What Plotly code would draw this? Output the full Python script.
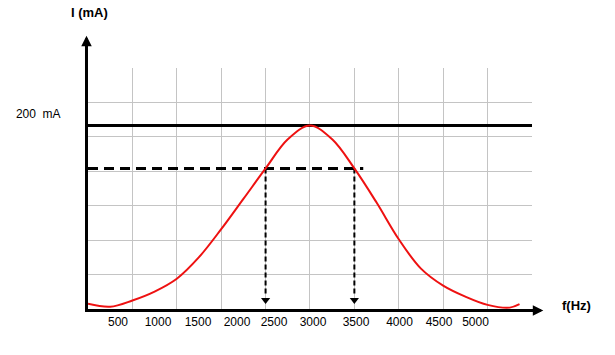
import plotly.graph_objects as go

# Resonance curve (frequency in Hz, current in mA)
freq_hz = [500, 750, 1000, 1250, 1500, 1750, 2000, 2250, 2500, 2750, 3000,
           3250, 3500, 3750, 4000, 4250, 4500, 4750, 5000, 5250, 5360]
current_ma = [5.7, 2.5, 9.3, 19.0, 33.0, 56.5, 87.0, 120.0, 153.2, 185.0, 200,
              185.0, 153.2, 116.0, 76.0, 44.0, 25.5, 13.5, 4.5, 1.5, 5.2]

peak_ma = 200
half_power_ma = 153.2
f_low, f_high = 2500, 3500
f_dash_end = 3600
arrow_tip_ma = 9.8

# Tick labels (placed where the picture prints them)
x_tick_text = ["500", "1000", "1500", "2000", "2500", "3000", "3500", "4000", "4500", "5000"]
x_tick_pos = [838, 1288, 1739, 2178, 2595, 3034, 3518, 4008, 4453, 4864]
y_tick_text = ["200\u00a0\u00a0mA"]
y_tick_pos = [212.7]

x_range = [500, 5500.5]
y_range = [0, 262.7]
x_grid_step = 500
y_grid_step = 37.5

fig = go.Figure()

# 200 mA reference line
fig.add_trace(go.Scatter(x=x_range, y=[peak_ma, peak_ma], mode="lines",
                         line=dict(color="black", width=3), hoverinfo="skip"))
# half-power dashed line
fig.add_trace(go.Scatter(x=[x_range[0], f_dash_end], y=[half_power_ma, half_power_ma], mode="lines",
                         line=dict(color="black", width=3, dash="10px,6px"), hoverinfo="skip"))
# vertical dashed drops
for f in (f_low, f_high):
    fig.add_trace(go.Scatter(x=[f, f], y=[half_power_ma, arrow_tip_ma + 4], mode="lines",
                             line=dict(color="black", width=2, dash="5px,3px"), hoverinfo="skip"))
    fig.add_trace(go.Scatter(x=[f], y=[arrow_tip_ma], mode="markers",
                             marker=dict(symbol="triangle-down", size=8, color="black"),
                             hoverinfo="skip"))
# red resonance curve
fig.add_trace(go.Scatter(x=freq_hz, y=current_ma, mode="lines",
                         line=dict(color="#ee1111", width=2, shape="spline", smoothing=1.0),
                         hoverinfo="skip"))

grid_color = "#c4c4c4"
fig.update_xaxes(range=x_range, showgrid=False, zeroline=False,
                 showline=True, linecolor="black", linewidth=3,
                 tickmode="array", tickvals=x_tick_pos, ticktext=x_tick_text, ticks="",
                 tickfont=dict(family="Liberation Sans", size=12, color="black"),
                 minor=dict(tick0=0, dtick=x_grid_step, showgrid=True, gridcolor=grid_color,
                            gridwidth=1, ticks=""))
fig.update_yaxes(range=y_range, showgrid=False, zeroline=False,
                 showline=True, linecolor="black", linewidth=3,
                 tickmode="array", tickvals=y_tick_pos, ticktext=y_tick_text, ticks="",
                 ticklabelstandoff=22,
                 tickfont=dict(family="Liberation Sans", size=12, color="black"),
                 minor=dict(tick0=0, dtick=y_grid_step, showgrid=True, gridcolor=grid_color,
                            gridwidth=1, ticks=""))

annotations = [
    # axis arrows
    dict(x=-0.0034, y=1.134, xref="paper", yref="paper", text="", showarrow=True,
         ax=0, ay=45, arrowhead=2, arrowsize=0.7, arrowwidth=3, arrowcolor="black"),
    dict(x=1.0255, y=-0.0062, xref="paper", yref="paper", text="", showarrow=True,
         ax=-45, ay=0, arrowhead=2, arrowsize=0.7, arrowwidth=3, arrowcolor="black"),
    # axis titles
    dict(x=0.003, y=1.232, xref="paper", yref="paper", text="<b>I (mA)</b>", showarrow=False,
         xanchor="center", yanchor="middle",
         font=dict(family="Liberation Sans", size=13, color="black")),
    dict(x=1.101, y=0.016, xref="paper", yref="paper", text="<b>f(Hz)</b>", showarrow=False,
         xanchor="center", yanchor="middle",
         font=dict(family="Liberation Sans", size=13, color="black")),
]

fig.update_layout(width=615, height=355, autosize=False,
                  margin=dict(l=88, r=83, t=68, b=45.5),
                  paper_bgcolor="white", plot_bgcolor="white",
                  showlegend=False, annotations=annotations)

fig.write_html("out.html")
